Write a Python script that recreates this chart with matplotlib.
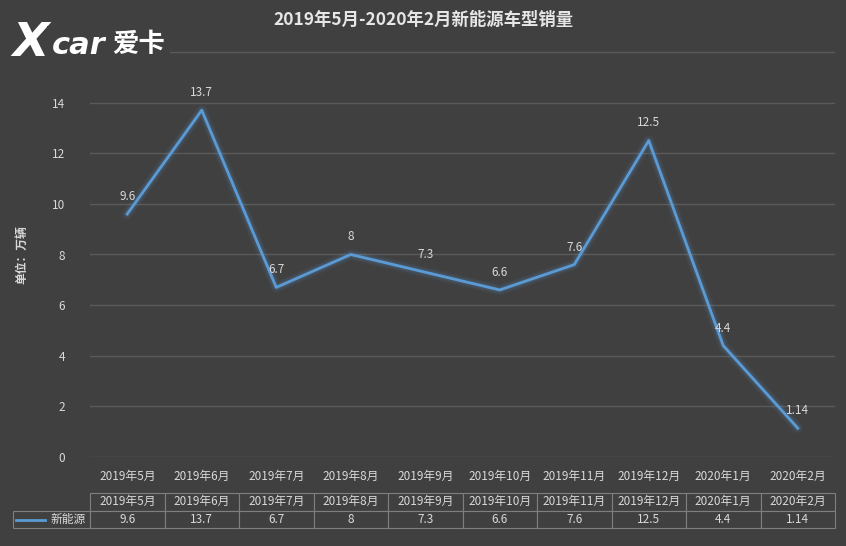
import matplotlib
matplotlib.use('Agg')
import matplotlib.pyplot as plt

plt.rcParams['font.family'] = ['Noto Sans CJK SC', 'DejaVu Sans']

months = ['2019年5月', '2019年6月', '2019年7月', '2019年8月', '2019年9月',
          '2019年10月', '2019年11月', '2019年12月', '2020年1月', '2020年2月']
sales = [9.6, 13.7, 6.7, 8, 7.3, 6.6, 7.6, 12.5, 4.4, 1.14]
sales_txt = ['9.6', '13.7', '6.7', '8', '7.3', '6.6', '7.6', '12.5', '4.4', '1.14']
series_name = '新能源'
yticks = [0, 2, 4, 6, 8, 10, 12, 14, 16]

bg = '#404040'
txt = '#d9d9d9'
line_c = '#5b9bd5'
grid_c = '#5a5a5a'

fig = plt.figure(figsize=(8.46, 5.46), dpi=100, facecolor=bg)
W, H = 846, 546
ax = fig.add_axes([90 / W, 1 - 457 / H, 745 / W, 408 / H])
ax.set_facecolor(bg)

x = list(range(len(months)))
# glow
for lw, a in [(8, 0.05), (6, 0.08), (4, 0.12)]:
    ax.plot(x, sales, color=line_c, lw=lw, alpha=a, solid_capstyle='round', solid_joinstyle='round')
ax.plot(x, sales, color=line_c, lw=2)

for xi, v, s in zip(x, sales, sales_txt):
    ax.annotate(s, (xi, v), xytext=(0, 8), textcoords='offset points',
                ha='center', va='bottom', color=txt, fontsize=8.5)

ax.set_xlim(-0.5, len(months) - 0.5)
ax.set_ylim(0, 16 * 408 / 405)
ax.set_yticks(yticks)
ax.set_yticklabels([str(t) if t < 16 else '' for t in yticks])
ax.set_xticks(x)
ax.set_xticklabels(months)
ax.tick_params(axis='both', length=0, colors=txt, labelsize=8.5)
ax.tick_params(axis='y', pad=18)
ax.tick_params(axis='x', pad=9)
ax.grid(axis='y', color=grid_c, lw=1)
ax.set_axisbelow(True)
for sp in ax.spines.values():
    sp.set_visible(False)

fig.text(22 / W, 1 - 255 / H, '单位：万辆', rotation=90, ha='center', va='center',
         color=txt, fontsize=8.5, fontweight='bold')

# data table
aw, ah = 745.0, 408.0
col_w = [77 / aw] + [74.5 / aw] * len(months)
tbl = ax.table(cellText=[[series_name] + sales_txt],
               colLabels=[''] + months,
               colWidths=col_w,
               cellLoc='center',
               bbox=[-77 / aw, (457 - 528) / ah, sum(col_w), 35 / ah])
tbl.auto_set_font_size(False)
for (r, c), cell in tbl.get_celld().items():
    cell.set_facecolor(bg)
    cell.set_edgecolor('#7f7f7f')
    cell.set_linewidth(0.8)
    cell.get_text().set_color(txt)
    cell.get_text().set_fontsize(8.5)
    if r == 0 and c == 0:
        cell.visible_edges = ''
    if r == 1 and c == 0:
        cell.get_text().set_ha('right')
        cell._loc = 'right'
        cell.PAD = 0.05
ax.plot([-74 / aw, -45 / aw], [(457 - 520) / ah] * 2, color=line_c, lw=2,
        transform=ax.transAxes, clip_on=False)

fig.text(0.5, 1 - 20 / H, '2019年5月-2020年2月新能源车型销量', ha='center', va='center',
         color='#e6e6e6', fontsize=12.5, fontweight='bold')
# logo
fig.text(12 / W, 1 - 44 / H, 'X', ha='left', va='center', color='white',
         fontsize=34, fontweight='bold', style='italic', family='DejaVu Sans',
         bbox=dict(facecolor=bg, edgecolor='none', pad=2))
fig.text(52 / W, 1 - 46 / H, 'car', ha='left', va='center', color='white',
         fontsize=22, fontweight='bold', style='italic', family='DejaVu Sans',
         bbox=dict(facecolor=bg, edgecolor='none', pad=4))
fig.text(112 / W, 1 - 44 / H, '爱卡', ha='left', va='center', color='white',
         fontsize=19, fontweight='bold',
         bbox=dict(facecolor=bg, edgecolor='none', pad=4))

fig.savefig('out.png', dpi=100, facecolor=bg)
